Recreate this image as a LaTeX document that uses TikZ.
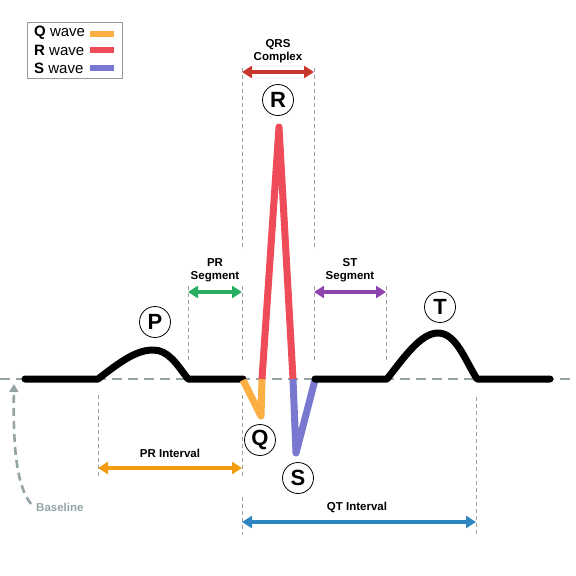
\documentclass[tikz,border=0pt]{standalone}
\usepackage{fontspec}
\setmainfont{Liberation Sans}
\usetikzlibrary{arrows.meta}
\definecolor{qcol}{HTML}{FBAE42}
\definecolor{rcol}{HTML}{EE4C58}
\definecolor{scol}{HTML}{7878D0}
\definecolor{qrsarr}{HTML}{C8372D}
\definecolor{prsarr}{HTML}{27AE60}
\definecolor{starr}{HTML}{8E44AD}
\definecolor{priarr}{HTML}{F39C12}
\definecolor{qtarr}{HTML}{2E86C1}
\definecolor{basecol}{HTML}{95A5A6}
\begin{document}
\begin{tikzpicture}[x=1pt,y=-1pt,
  ecg/.style={line width=7pt, line join=round, line cap=round},
  wavepart/.style={line width=7pt, line join=round},
  vguide/.style={draw=gray!75, line width=0.8pt, dash pattern=on 4pt off 3pt},
  dblarrow/.style={line width=4.5pt, {Triangle[length=10pt,width=12pt]}-{Triangle[length=10pt,width=12pt]}},
  lbl/.style={font=\fontsize{11.5}{13}\selectfont\bfseries, align=center, inner sep=0pt},
  circlbl/.style={circle, draw, line width=0.8pt, minimum size=31pt, inner sep=0pt, font=\fontsize{22}{22}\selectfont\bfseries},
  legtext/.style={font=\fontsize{15}{16}\selectfont, anchor=west, inner sep=0pt}
]
\useasboundingbox (0,0) rectangle (576,576);

% baseline
\draw[basecol, line width=1.3pt, dash pattern=on 10pt off 6pt] (0,379) -- (576,379);

% vertical guides
\draw[vguide] (242,68) -- (242,250);
\draw[vguide] (314,68) -- (314,250);
\draw[vguide] (188,286) -- (188,362);
\draw[vguide] (242,286) -- (242,362);
\draw[vguide] (314,286) -- (314,362);
\draw[vguide] (386,286) -- (386,362);
\draw[vguide] (98,395) -- (98,478);
\draw[vguide] (242,395) -- (242,478);
\draw[vguide] (242,497) -- (242,535);
\draw[vguide] (476,397) -- (476,535);

% ECG trace
\draw[ecg] (25,379) -- (98,379) .. controls (120,362) and (136,350) .. (153,350)
  .. controls (168,350) and (176,363) .. (188,379) -- (243,379);
\draw[wavepart, qcol] (243,380) -- (261,416) -- (262,379);
\draw[wavepart, rcol] (262,379) -- (279,127) -- (293,379);
\draw[wavepart, scol] (293,379) -- (296,453) -- (315,380);
\draw[ecg] (315,379) -- (387,379) .. controls (405,356) and (421,333) .. (438,333)
  .. controls (456,333) and (465,360) .. (477,379) -- (550,379);

% wave labels
\node[circlbl] (P) at (155,322) {P};
\node[circlbl] (R) at (278,100) {R};
\node[circlbl] (Q) at (260,440) {Q};
\node[circlbl] (S) at (298,478) {S};
\node[circlbl] (T) at (440,307) {T};

% arrows
\coordinate (qrsL) at (242,72); \coordinate (qrsR) at (314,72);
\draw[dblarrow, qrsarr] (qrsL) -- (qrsR);
\node[lbl] (qrslbl) at (278,51) {QRS\\Complex};

\coordinate (prsL) at (188,292); \coordinate (prsR) at (242,292);
\draw[dblarrow, prsarr] (prsL) -- (prsR);
\node[lbl] (prslbl) at (215,270) {PR\\Segment};

\coordinate (stL) at (314,292); \coordinate (stR) at (386,292);
\draw[dblarrow, starr] (stL) -- (stR);
\node[lbl] (stlbl) at (350,270) {ST\\Segment};

\coordinate (priL) at (98,468); \coordinate (priR) at (242,468);
\draw[dblarrow, priarr] (priL) -- (priR);
\node[lbl] (prilbl) at (170,453) {PR Interval};

\coordinate (qtL) at (242,522); \coordinate (qtR) at (476,522);
\draw[dblarrow, qtarr] (qtL) -- (qtR);
\node[lbl] (qtlbl) at (357,507) {QT Interval};

% baseline label
\node[lbl, text=basecol, anchor=west] (baselbl) at (36,507) {Baseline};
\coordinate (baseTip) at (14,384);
\draw[basecol, line width=2.6pt, dash pattern=on 8pt off 5pt, -{Triangle[length=8pt,width=9pt]}]
  (31,504) .. controls (16,485) and (13,445) .. (baseTip);

% legend
\node[draw=gray!80, line width=0.8pt, minimum width=95pt, minimum height=56pt, anchor=north west, inner sep=0pt] (legend) at (27,22) {};
\node[legtext] (lq) at (34,33) {\textbf{Q} wave};
\node[legtext] (lr) at (34,50) {\textbf{R} wave};
\node[legtext] (ls) at (34,68) {\textbf{S} wave};
\fill[qcol] (90,31) rectangle (114,37);
\fill[rcol] (90,47) rectangle (114,53);
\fill[scol] (90,65) rectangle (114,71);
\end{tikzpicture}
\end{document}
